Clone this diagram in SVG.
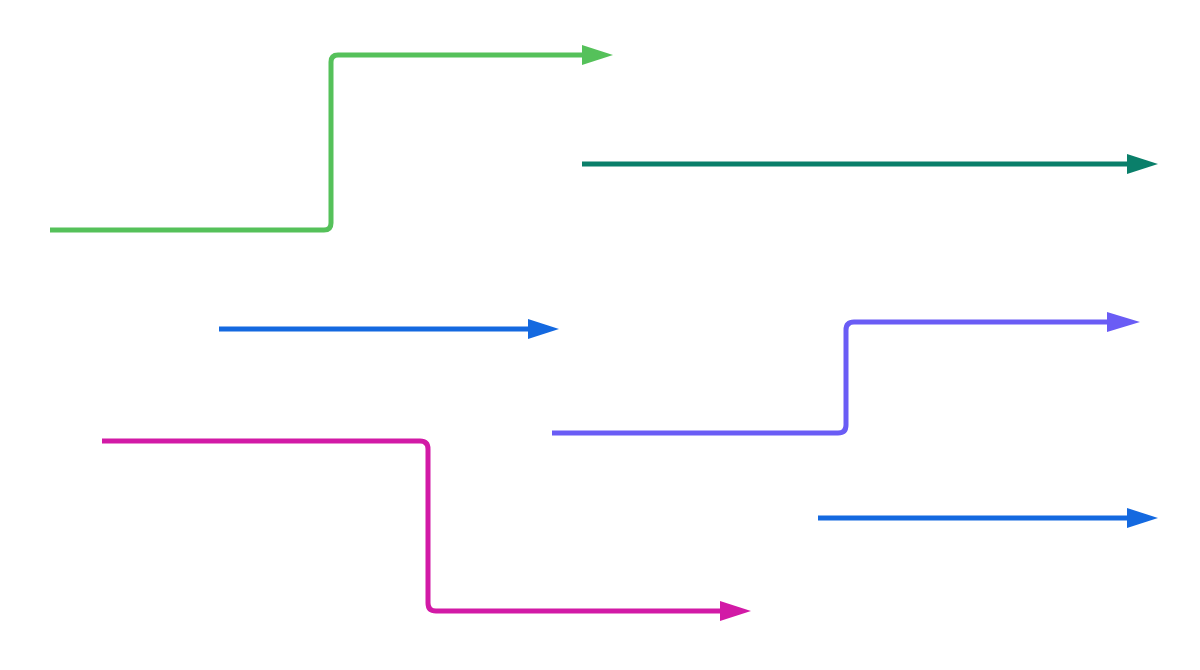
<svg xmlns="http://www.w3.org/2000/svg" width="1200" height="670" viewBox="0 0 1200 670">
<style>
.c{fill:none;stroke-width:5;stroke-linejoin:round}
</style>
<rect width="1200" height="670" fill="#fff"/>
<g id="connectors">
<path class="c" stroke="#55c15a" d="M50,230 H324 Q331,230 331,223 V62 Q331,55 338,55 H584"/>
<polygon fill="#55c15a" points="582,45 613,55 582,65"/>
<path class="c" stroke="#0a7f6a" d="M582,164 H1130"/>
<polygon fill="#0a7f6a" points="1127,154 1158,164 1127,174"/>
<path class="c" stroke="#1469e0" d="M219,329 H530"/>
<polygon fill="#1469e0" points="528,319 559,329 528,339"/>
<path class="c" stroke="#6a5cf5" stroke-width="6" d="M552,433 H838 Q846,433 846,425 V330 Q846,322 854,322 H1110"/>
<polygon fill="#6a5cf5" points="1107,312 1140,322 1107,332"/>
<path class="c" stroke="#d21aa6" d="M102,441 H420 Q428,441 428,449 V603 Q428,611 436,611 H722"/>
<polygon fill="#d21aa6" points="720,601 751,611 720,621"/>
<path class="c" stroke="#1469e0" d="M818,518 H1130"/>
<polygon fill="#1469e0" points="1127,508 1158,518 1127,528"/>
</g>
</svg>
